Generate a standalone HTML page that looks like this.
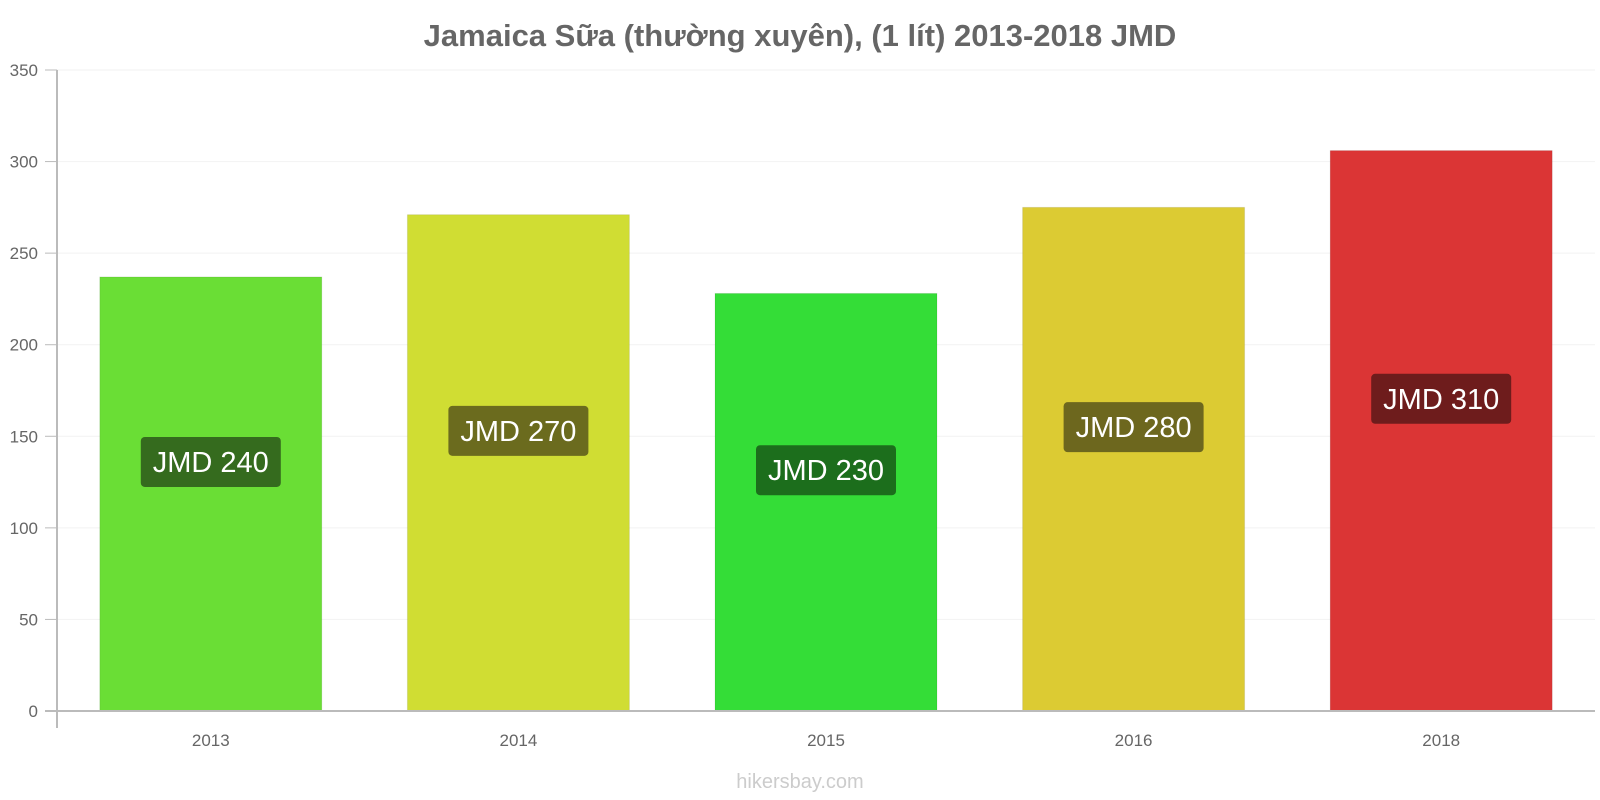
<!DOCTYPE html>
<html><head><meta charset="utf-8"><style>
body{margin:0;background:#fff;}
svg{display:block;font-family:"Liberation Sans",sans-serif;}
</style></head><body>
<svg width="1600" height="800">
<text x="800" y="46" text-anchor="middle" font-size="31" font-weight="bold" fill="#666">Jamaica Sữa (thường xuyên), (1 lít) 2013-2018 JMD</text>
<g id="grid"></g><g id="bars"></g><g id="labels"></g>
<line x1="57" y1="70" x2="57" y2="728" stroke="#bbb" stroke-width="2"/>
<line x1="45" y1="711" x2="1595" y2="711" stroke="#bbb" stroke-width="2"/>
<text x="800" y="788" text-anchor="middle" font-size="20" fill="#ccc">hikersbay.com</text>
</svg>
<script>
const categories=["2013","2014","2015","2016","2018"];
const values=[237,271,228,275,306];
const valueLabels=["JMD 240","JMD 270","JMD 230","JMD 280","JMD 310"];
const yTicks=[0,50,100,150,200,250,300,350];
const barColors=["#6ade35","#d0dd33","#34dd37","#dccb33","#db3535"];
const labelColors=["#356b1e","#6b6b1e","#1c6e1c","#6d671e","#6e1c1c"];
const NS="http://www.w3.org/2000/svg";
const x0=57,x1=1595,y0=711,yTop=70,ymax=350;
const y=v=>y0-(v/ymax)*(y0-yTop);
const band=(x1-x0)/categories.length;
const xc=i=>x0+band*(i+0.5);
function mk(t,a,p){const e=document.createElementNS(NS,t);for(const k in a)e.setAttribute(k,a[k]);p.appendChild(e);return e;}
const grid=document.getElementById('grid'),bars=document.getElementById('bars'),labels=document.getElementById('labels');
yTicks.forEach(t=>{
 const l=mk('line',{x1:x0,x2:x1,y1:y(t),y2:y(t),stroke:'#f2f2f2','stroke-width':1},grid);
 
 
 const tx=mk('text',{x:38,y:y(t)+6,'text-anchor':'end','font-size':17,fill:'#666'},grid);
 tx.textContent=t;
 
 
 const tk=mk('line',{x1:45,x2:57,y1:y(t),y2:y(t),stroke:'#bbb','stroke-width':1},grid);
 
 
});
const bw=222;
categories.forEach((c,i)=>{
 const top=y(values[i]);
 const r=mk('rect',{x:xc(i)-bw/2,y:top,width:bw,height:y0-top,fill:barColors[i],stroke:'rgba(0,0,0,0.08)','stroke-width':1},bars);
 
 
 const cy=(top+y0)/2-32;
 const g=mk('g',{},labels);
 
 
 mk('rect',{x:xc(i)-70,y:cy-25,width:140,height:50,rx:4,fill:labelColors[i]},g);
 const t=mk('text',{x:xc(i),y:cy+10,'text-anchor':'middle','font-size':29,fill:'#fff'},g);
 t.textContent=valueLabels[i];
 const xl=mk('text',{x:xc(i),y:746,'text-anchor':'middle','font-size':17,fill:'#666'},labels);
 xl.textContent=c;
 
 
});
</script>
</body></html>
